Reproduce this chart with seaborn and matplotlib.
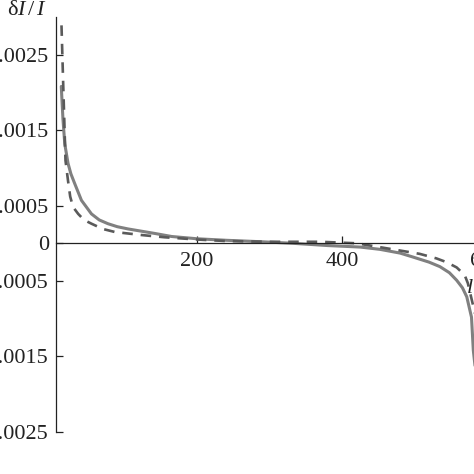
import matplotlib
matplotlib.use("Agg")
import matplotlib.pyplot as plt
import seaborn as sns
import pandas as pd

# solid curve
l_solid = [12.7, 15, 17.5, 22, 26, 31.3, 40.5, 54.3, 65, 77, 90, 105, 142, 165,
           200, 240, 290, 332, 380, 425, 452, 480, 497, 520, 535, 548, 558, 566,
           572, 578.5, 581, 590]
d_solid = [0.00208, 0.00165, 0.00132, 0.00106, 0.00092, 0.00079, 0.00057, 0.00039,
           0.00031, 0.00026, 0.00022, 0.00019, 0.00013, 0.00009, 0.00006, 0.00004,
           0.00002, 0.0, -0.00003, -0.00005, -0.00008, -0.00013, -0.00018,
           -0.00025, -0.00031, -0.00039, -0.00049, -0.00059, -0.00071, -0.00098,
           -0.00142, -0.0022]

# dashed curve
l_dash = [13, 15.2, 18.5, 22, 25, 29, 36, 44, 54.3, 70, 86.5, 123, 155, 200, 240,
          300, 370, 420, 470, 507, 530, 544, 558, 569, 573.5, 585]
d_dash = [0.00289, 0.00216, 0.0011, 0.00083, 0.00062, 0.00048, 0.00039, 0.00031,
          0.00026, 0.00019, 0.00015, 0.00011, 0.00008, 0.00005, 0.00003, 0.00002,
          0.00002, 0.0, -0.00008, -0.00014, -0.0002, -0.00025, -0.00032, -0.00042,
          -0.00053, -0.0010]

yticks = [-0.0025, -0.0015, -0.0005, 0, 0.0005, 0.0015, 0.0025]
ytick_labels = ["\u22120.0025", "\u22120.0015", "\u22120.0005", "0",
                "0.0005", "0.0015", "0.0025"]
xticks = [200, 400, 600]

sns.set_style("white")
plt.rcParams["font.family"] = ["Liberation Serif", "DejaVu Serif"]
plt.rcParams["mathtext.fontset"] = "custom"
plt.rcParams["mathtext.rm"] = "Liberation Serif"
plt.rcParams["mathtext.it"] = "Liberation Serif:italic"

solid = pd.DataFrame({"l": l_solid, "d": d_solid})
dash = pd.DataFrame({"l": l_dash, "d": d_dash})

fig = plt.figure(figsize=(4.74, 4.74), dpi=100)
ax = fig.add_axes([0.1175, 0.089, 0.9407, 0.875])

sns.lineplot(data=solid, x="l", y="d", ax=ax, color="#808080", linewidth=2.2,
             sort=False)
sns.lineplot(data=dash, x="l", y="d", ax=ax, color="#5a5a5a", linewidth=1.9,
             linestyle=(0, (4, 3)), sort=False)

ax.set_xlim(5, 620)
ax.set_ylim(-0.0025, 0.003)

ax.spines["top"].set_visible(False)
ax.spines["right"].set_visible(False)
ax.spines["bottom"].set_position(("data", 0))
for s in ["left", "bottom"]:
    ax.spines[s].set_color("#222222")
    ax.spines[s].set_linewidth(0.9)

ax.set_yticks(yticks)
ax.set_yticklabels(ytick_labels)
ax.set_xticks(xticks)
ax.set_xticklabels([str(t) for t in xticks])
ax.tick_params(axis="y", left=True, direction="in", length=5, width=0.9, pad=5,
               labelsize=16, colors="#222222")
ax.tick_params(axis="x", bottom=True, direction="in", length=5, width=0.9, pad=6,
               labelsize=16, colors="#222222")
ax.set_xlabel("")
ax.set_ylabel("")

fig.text(0.015, 0.977, r"$\mathrm{\delta}I\,/\,I$", fontsize=16, ha="left",
         va="center", color="#222222")
fig.text(0.985, 0.392, "l", fontsize=16, style="italic", ha="left",
         va="center", color="#222222")

fig.savefig("out.png", dpi=100)
